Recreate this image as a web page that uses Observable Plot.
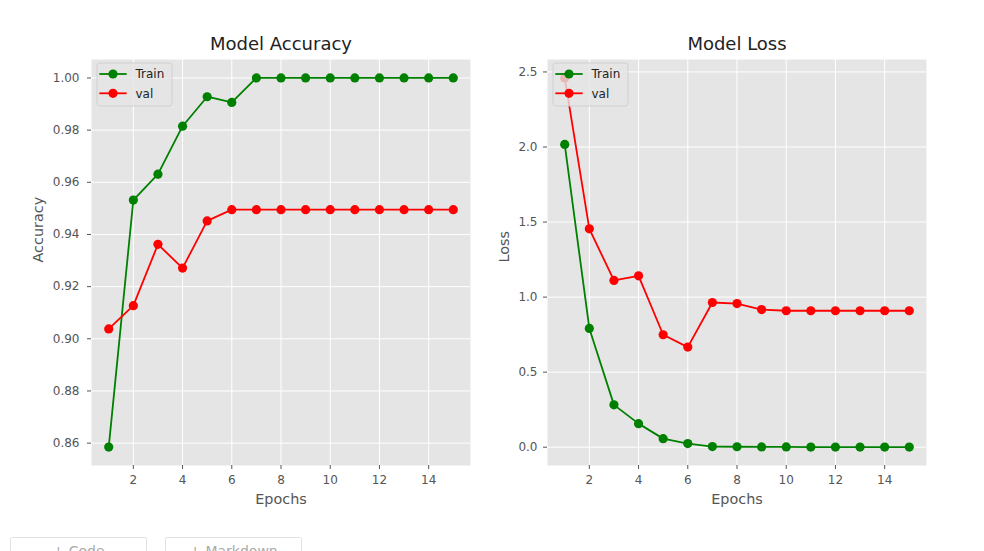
<!DOCTYPE html>
<html><head><meta charset="utf-8">
<script src="https://cdn.jsdelivr.net/npm/d3@7"></script>
<script src="https://cdn.jsdelivr.net/npm/@observablehq/plot@0.6"></script>
<style>
body{margin:0;background:#fff;width:984px;height:551px;overflow:hidden;position:relative;font-family:"DejaVu Sans",sans-serif}
#left{position:absolute;left:0;top:0}
#right{position:absolute;left:480px;top:0}
.btn{position:absolute;top:537px;height:30px;border:1px solid #e3e3e3;border-radius:2px;box-sizing:border-box;color:#aaa;font-size:14px;text-align:center;padding-top:5px;font-family:"DejaVu Sans",sans-serif}
</style></head><body>
<div id="left"></div><div id="right"></div>
<div class="btn" style="left:10px;width:137px">+ Code</div>
<div class="btn" style="left:165px;width:137px">+ Markdown</div>
<script>
const epochs = [1,2,3,4,5,6,7,8,9,10,11,12,13,14,15];
const accTrain = [0.8585,0.9532,0.9631,0.9815,0.9928,0.9906,1,1,1,1,1,1,1,1,1];
const accVal = [0.9038,0.9127,0.9362,0.9271,0.9452,0.9495,0.9495,0.9495,0.9495,0.9495,0.9495,0.9495,0.9495,0.9495,0.9495];
const lossTrain = [2.017,0.791,0.282,0.157,0.057,0.024,0.004,0.003,0.002,0.002,0.001,0.001,0.001,0.001,0.001];
const lossVal = [2.46,1.455,1.111,1.142,0.749,0.667,0.964,0.957,0.917,0.909,0.909,0.909,0.909,0.909,0.909];
const xTicks = [2,4,6,8,10,12,14];
const accTicks = [0.86,0.88,0.90,0.92,0.94,0.96,0.98,1.00];
const lossTicks = [0,0.5,1.0,1.5,2.0,2.5];
const seriesNames = ["Train","val"];
const seriesColors = ["#008000","#ff0000"];

function chart({title, ylabel, train, val, yTicks, yFormat, width, marginLeft, marginRight, labelDx, tickPad}) {
  const all = train.concat(val);
  const lo = d3.min(all), hi = d3.max(all), pad = (hi - lo) * 0.05;
  const rows = [];
  [train, val].forEach((s, k) => s.forEach((v, i) => rows.push({epoch: epochs[i], value: v, series: seriesNames[k]})));
  const marks = [
    Plot.frame({fill: "#E5E5E5", stroke: null}),
    Plot.gridX(xTicks, {stroke: "white", strokeOpacity: 1, strokeWidth: 1}),
    Plot.gridY(yTicks, {stroke: "white", strokeOpacity: 1, strokeWidth: 1}),
    Plot.axisX(xTicks, {tickSize: 4, tickPadding: 6, color: "#555", fontSize: 12, label: null}),
    Plot.axisY(yTicks, {tickSize: 4, tickPadding: tickPad, color: "#555", fontSize: 12, label: null, tickFormat: d3.format(yFormat)})
  ];
  seriesNames.forEach((name, k) => {
    const d = rows.filter(r => r.series === name);
    marks.push(Plot.line(d, {x: "epoch", y: "value", stroke: seriesColors[k], strokeWidth: 1.8}));
    marks.push(Plot.dot(d, {x: "epoch", y: "value", r: 4.6, fill: seriesColors[k], stroke: null}));
  });
  marks.push(Plot.text([title], {frameAnchor: "top", dy: -15, fontSize: 18, fill: "#222", lineAnchor: "middle"}));
  marks.push(Plot.text(["Epochs"], {frameAnchor: "bottom", dy: 34, fontSize: 14.4, fill: "#555", lineAnchor: "middle"}));
  marks.push(Plot.text([ylabel], {frameAnchor: "left", dx: labelDx, rotate: -90, fontSize: 14.4, fill: "#555", lineAnchor: "middle"}));
  const svg = Plot.plot({
    width, height: 530, marginTop: 59, marginBottom: 65, marginLeft, marginRight,
    x: {domain: [0.3, 15.7]},
    y: {domain: [lo - pad, hi + pad]},
    style: {fontFamily: "DejaVu Sans, sans-serif", fontSize: "12px", background: "transparent", overflow: "visible"},
    marks
  });
  // legend
  const g = d3.select(svg).append("g").attr("transform", `translate(${marginLeft + 6},${59 + 4})`);
  g.append("rect").attr("width", 75).attr("height", 43).attr("rx", 3)
    .attr("fill", "#E5E5E5").attr("fill-opacity", 0.8).attr("stroke", "#cccccc").attr("stroke-opacity", 0.8);
  seriesNames.forEach((name, k) => {
    const y = 11 + k * 19.3;
    g.append("line").attr("x1", 2.3).attr("x2", 29.7).attr("y1", y).attr("y2", y).attr("stroke", seriesColors[k]).attr("stroke-width", 1.8);
    g.append("circle").attr("cx", 16).attr("cy", y).attr("r", 4.6).attr("fill", seriesColors[k]);
    g.append("text").attr("x", 38.5).attr("y", y).attr("dy", "0.35em").attr("text-anchor", "start")
      .attr("font-size", 12).attr("fill", "#222").text(name);
  });
  return svg;
}

document.getElementById("left").append(chart({
  title: "Model Accuracy", ylabel: "Accuracy", train: accTrain, val: accVal,
  yTicks: accTicks, yFormat: ".2f", width: 480, marginLeft: 91, marginRight: 10, labelDx: -53, tickPad: 8
}));
document.getElementById("right").append(chart({
  title: "Model Loss", ylabel: "Loss", train: lossTrain, val: lossVal,
  yTicks: lossTicks, yFormat: ".1f", width: 504, marginLeft: 67, marginRight: 58, labelDx: -43, tickPad: 6
}));
</script>
</body></html>
